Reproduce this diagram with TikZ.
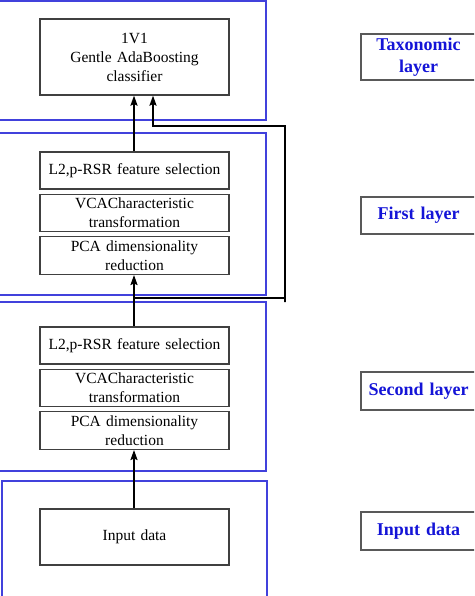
\documentclass[tikz,border=0pt]{standalone}
\usepackage{fontspec}
\setmainfont{Liberation Serif}
\usetikzlibrary{positioning,arrows.meta}
\definecolor{framecol}{RGB}{65,65,220}
\definecolor{tagcol}{RGB}{20,20,215}
\tikzset{
>={Stealth[length=10pt,width=7pt,inset=1.5pt]},
  stagebox/.style={
    rectangle,
    draw=black!75, line width=1.2pt,
    fill=white,
    minimum width=189pt,
    minimum height=37pt,
    text width=185pt,
    inner sep=0pt,
    align=center,
    font=\fontsize{15.5}{19}\selectfont},
  layerframe/.style={draw=framecol, line width=1.2pt},
  tagbox/.style={
    rectangle,
    draw=black!65, line width=1.2pt,
    minimum width=115pt,
    text width=110pt,
    inner sep=0pt,
    align=center,
    text=tagcol,
    font=\fontsize{18}{22}\selectfont\bfseries},
  flow/.style={draw, line width=1.8pt, ->},
}
\begin{document}
\begin{tikzpicture}[x=1pt,y=-1pt,node distance=4pt]
  \clip (0,0) rectangle (474,596);
  \fill[white] (0,0) rectangle (474,596);

  % layer frames
  \fill[framecol!45] (-5,0) rectangle (266,2.5);
  \draw[layerframe] (-5,1) rectangle (266,120);
  \draw[layerframe] (-5,133) rectangle (266,295);
  \draw[layerframe] (-5,302) rectangle (266,471);
  \draw[layerframe] (2,481) rectangle (267,610);

  % taxonomic layer
  \node[stagebox, minimum height=76pt] (cls) at (134.5,57) {1V1\\Gentle AdaBoosting\\classifier};

  % first layer
  \node[stagebox] (sel1) at (134.5,170.5) {L2,p-RSR feature selection};
  \node[stagebox, below=of sel1] (vca1) {VCACharacteristic\\transformation};
  \node[stagebox, below=of vca1, minimum height=38pt] (pca1) {PCA dimensionality\\reduction};

  % second layer
  \node[stagebox] (sel2) at (134.5,345.5) {L2,p-RSR feature selection};
  \node[stagebox, below=of sel2] (vca2) {VCACharacteristic\\transformation};
  \node[stagebox, below=of vca2, minimum height=38pt] (pca2) {PCA dimensionality\\reduction};

  % input
  \node[stagebox, minimum height=56pt] (input) at (134.5,537) {Input data};

  % layer tags
  \node[tagbox, minimum height=46pt] (tag-tax) at (418.5,57) {Taxonomic\\layer};
  \node[tagbox, minimum height=37pt] (tag-first) at (418.5,215.5) {First layer};
  \node[tagbox, minimum height=38pt] (tag-second) at (418.5,391) {Second layer};
  \node[tagbox, minimum height=38pt] (tag-input) at (418.5,531) {Input data};

  \coordinate (fork) at (134,298);
  \coordinate (bend) at (285,302);
  \coordinate (hook) at (153,126);

  \draw[flow] (input.north -| fork) -- (pca2.south -| fork);
  \draw[flow] (sel2.north -| fork) -- (pca1.south -| fork);
  \draw[flow] (sel1.north -| fork) -- (cls.south -| fork);
  \draw[flow] (fork) -| (bend) |- (hook) -- (hook |- cls.south);

\end{tikzpicture}
\end{document}
